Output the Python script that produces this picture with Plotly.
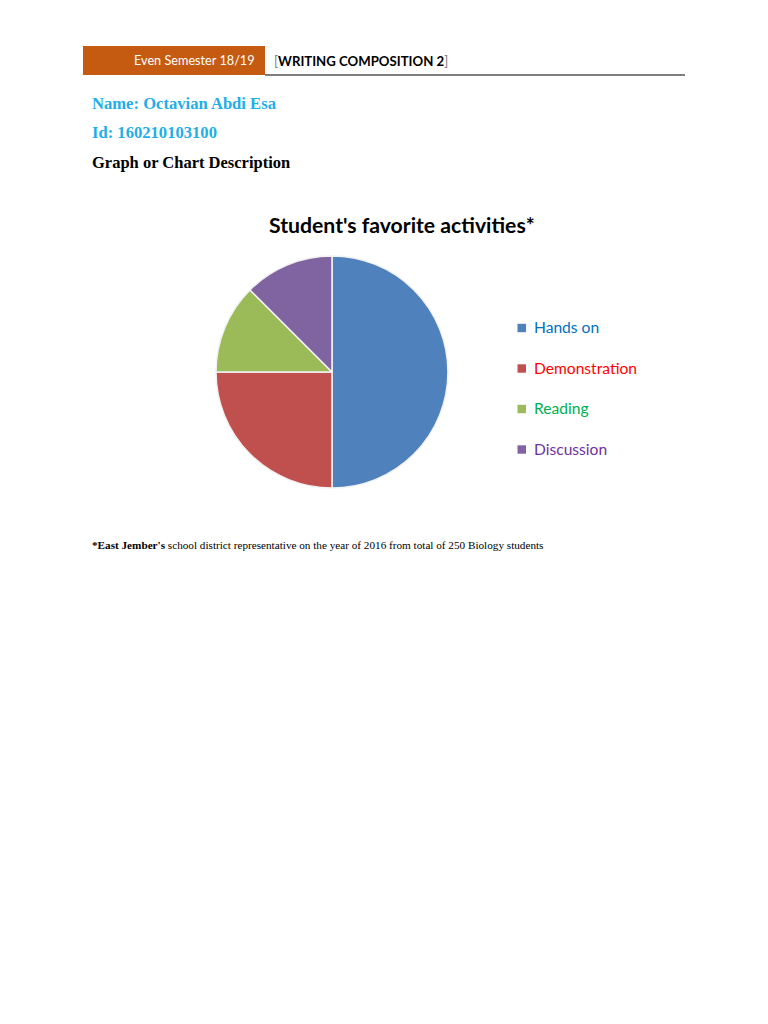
import plotly.graph_objects as go

# chart data
activities = ['Hands on', 'Demonstration', 'Reading', 'Discussion']
shares = [50, 25, 12.5, 12.5]
slice_colors = ['#4F81BD', '#C0504D', '#9BBB59', '#8064A2']
legend_text_colors = ['#0070C0', '#FF0000', '#00B050', '#7030A0']

W, H = 768, 1024
PAGE_PAD = 8  # the html body adds an 8px margin around the figure
SANS = 'Lato'
SERIF = 'Liberation Serif'


def px_x(x):
    return (x - PAGE_PAD) / W


def px_y(y):
    return 1 - (y - PAGE_PAD) / H


fig = go.Figure()

fig.add_trace(go.Pie(
    labels=activities,
    values=shares,
    sort=False,
    direction='clockwise',
    rotation=0,
    marker=dict(colors=slice_colors, line=dict(color='#F2F2F2', width=1.5)),
    textinfo='none',
    hoverinfo='label+percent',
    showlegend=False,
    domain=dict(x=[px_x(216), px_x(448)], y=[px_y(489), px_y(255)]),
))

shapes = [
    # header bar + rule
    dict(type='rect', xref='paper', yref='paper',
         x0=px_x(83), x1=px_x(265), y0=px_y(75), y1=px_y(46),
         fillcolor='#C55A11', line=dict(width=0)),
    dict(type='line', xref='paper', yref='paper',
         x0=px_x(265), x1=px_x(685), y0=px_y(75), y1=px_y(75),
         line=dict(color='#7F7F7F', width=2)),
]

annotations = [
    dict(text='Even Semester 18/19', x=px_x(257), y=px_y(60), xanchor='right',
         font=dict(family=SANS, size=12.7, color='white')),
    dict(text="<span style='color:#7F7F7F'>[</span><b>WRITING COMPOSITION 2</b>"
              "<span style='color:#7F7F7F'>]</span>",
         x=px_x(272), y=px_y(61), xanchor='left',
         font=dict(family=SANS, size=13.2, color='black')),
    dict(text='<b>Name: Octavian Abdi Esa</b>', x=px_x(90), y=px_y(103), xanchor='left',
         font=dict(family=SERIF, size=16.6, color='#1FAEE6')),
    dict(text='<b>Id: 160210103100</b>', x=px_x(90), y=px_y(132), xanchor='left',
         font=dict(family=SERIF, size=16.6, color='#1FAEE6')),
    dict(text='<b>Graph or Chart Description</b>', x=px_x(90), y=px_y(162), xanchor='left',
         font=dict(family=SERIF, size=16.5, color='black')),
    dict(text="<b>Student's favorite activities*</b>", x=px_x(402), y=px_y(225),
         font=dict(family=SANS, size=21.2, color='black')),
    dict(text="<b>*East Jember's</b> school district representative on the year of 2016 "
              "from total of 250 Biology students",
         x=px_x(90), y=px_y(545), xanchor='left',
         font=dict(family=SERIF, size=11.2, color='black')),
]

# legend drawn by hand so each label can carry its own colour and spacing
for i, (name, sq_col, txt_col) in enumerate(zip(activities, slice_colors, legend_text_colors)):
    yc = 328 + i * 40.5
    shapes.append(dict(type='rect', xref='paper', yref='paper',
                       x0=px_x(517.5), x1=px_x(526), y0=px_y(yc + 4.2), y1=px_y(yc - 4.2),
                       fillcolor=sq_col, line=dict(width=0)))
    annotations.append(dict(text=name, x=px_x(532), y=px_y(yc - 1), xanchor='left',
                            font=dict(family=SANS, size=15.6, color=txt_col)))

for a in annotations:
    a.update(xref='paper', yref='paper', showarrow=False, yanchor='middle')

fig.update_layout(
    width=W, height=H,
    margin=dict(l=0, r=0, t=0, b=0),
    paper_bgcolor='white',
    plot_bgcolor='white',
    shapes=shapes,
    annotations=annotations,
)

fig.write_html('out.html')
